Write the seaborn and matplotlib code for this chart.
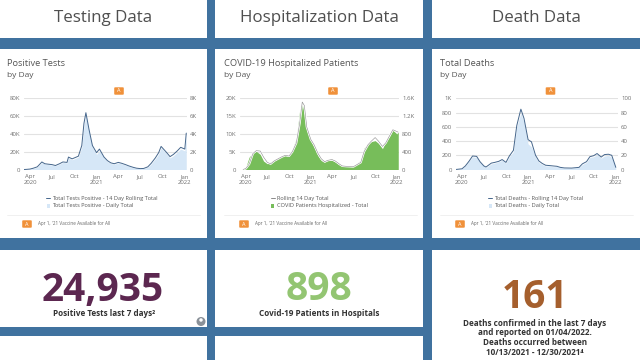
#!/usr/bin/env python3
"""Covid dashboard: three rolling/daily charts with headline numbers below."""

import matplotlib.pyplot as plt
import pandas as pd
import seaborn as sns
from matplotlib.patches import FancyBboxPatch, Rectangle, Ellipse

tests_dates = ["2020-03-05", "2020-03-15", "2020-04-01", "2020-04-15", "2020-05-01", "2020-05-20", "2020-06-01", "2020-06-15",
               "2020-07-01", "2020-07-15", "2020-08-01", "2020-08-15", "2020-09-01", "2020-09-07", "2020-09-22", "2020-10-18",
               "2020-11-01", "2020-11-10", "2020-11-18", "2020-12-01", "2020-12-15", "2021-01-01", "2021-01-13", "2021-02-01",
               "2021-02-15", "2021-03-01", "2021-03-15", "2021-04-01", "2021-04-15", "2021-05-01", "2021-05-15", "2021-06-01",
               "2021-06-15", "2021-07-01", "2021-07-15", "2021-08-01", "2021-08-15", "2021-09-01", "2021-09-15", "2021-09-25",
               "2021-10-15", "2021-11-01", "2021-11-15", "2021-12-01", "2021-12-15", "2022-01-01", "2022-01-07"]
tests_rolling = [0, 100, 500, 1500, 3000, 8500, 6500, 6000,
                 5500, 4500, 6500, 8500, 8000, 14000, 12000, 15000,
                 27000, 52000, 64000, 45000, 27000, 19000, 23000, 14000,
                 10000, 7500, 6500, 8000, 7000, 5500, 4000, 2500,
                 1500, 1000, 1200, 3000, 7000, 13000, 19000, 26000,
                 20000, 14500, 17000, 21000, 25000, 23000, 41000]
tests_daily = [0, 10, 40, 130, 260, 780, 620, 560,
               500, 420, 600, 800, 740, 1300, 1100, 1400,
               2500, 4800, 6200, 4300, 2500, 1700, 2100, 1300,
               900, 680, 600, 740, 640, 500, 360, 220,
               130, 90, 110, 270, 640, 1200, 1750, 2450,
               1850, 1300, 1550, 1950, 2300, 2100, 3900]

hosp_dates = ["2020-03-20", "2020-04-01", "2020-04-15", "2020-05-01", "2020-05-15", "2020-06-01", "2020-06-15", "2020-07-01",
              "2020-07-15", "2020-08-01", "2020-08-15", "2020-09-01", "2020-09-15", "2020-10-01", "2020-10-15", "2020-11-01",
              "2020-11-15", "2020-11-26", "2020-12-05", "2020-12-15", "2021-01-01", "2021-01-15", "2021-02-01", "2021-02-15",
              "2021-03-01", "2021-03-15", "2021-04-01", "2021-04-15", "2021-05-01", "2021-05-15", "2021-06-01", "2021-07-01",
              "2021-08-01", "2021-08-15", "2021-09-01", "2021-09-15", "2021-10-01", "2021-10-15", "2021-11-01", "2021-11-15",
              "2021-12-01", "2021-12-15", "2022-01-01", "2022-01-07"]
hosp_rolling = [0, 300, 1500, 4500, 5300, 5200, 3500, 2000,
                1600, 2500, 3000, 3600, 4000, 3800, 5000, 7500,
                13000, 19000, 18000, 12000, 8500, 7000, 4500, 3000,
                2200, 2600, 2800, 2400, 1600, 1000, 900, 800,
                2000, 5000, 7000, 8000, 9000, 8000, 6500, 7500,
                9500, 11200, 10700, 10500]
hosp_total = [0, 60, 280, 380, 410, 340, 190, 130,
              170, 220, 260, 310, 320, 320, 460, 700,
              1330, 1480, 1260, 880, 650, 510, 310, 200,
              170, 210, 210, 170, 110, 70, 70, 70,
              210, 480, 590, 630, 650, 590, 470, 630,
              750, 890, 800, 860]

deaths_dates = ["2020-03-05", "2020-04-01", "2020-04-15", "2020-05-01", "2020-05-15", "2020-06-01", "2020-06-15", "2020-07-01",
                "2020-07-10", "2020-08-01", "2020-08-15", "2020-09-01", "2020-09-15", "2020-10-01", "2020-10-15", "2020-11-01",
                "2020-11-15", "2020-12-02", "2020-12-15", "2021-01-01", "2021-01-15", "2021-02-01", "2021-02-15", "2021-03-01",
                "2021-03-15", "2021-04-01", "2021-04-15", "2021-05-01", "2021-05-15", "2021-06-01", "2021-07-01", "2021-08-01",
                "2021-08-15", "2021-09-01", "2021-09-15", "2021-10-01", "2021-10-15", "2021-11-01", "2021-11-15", "2021-12-01",
                "2021-12-15", "2022-01-01"]
deaths_rolling = [0, 10, 50, 120, 190, 185, 110, 50,
                  35, 90, 100, 115, 140, 100, 190, 270,
                  620, 850, 720, 420, 390, 200, 120, 85,
                  60, 55, 50, 45, 30, 22, 20, 30,
                  80, 110, 180, 195, 225, 175, 210, 215,
                  200, 30]
deaths_daily = [0, 1, 5, 12, 18, 17, 10, 5,
                3, 8, 9, 11, 13, 9, 18, 25,
                60, 80, 66, 36, 32, 17, 10, 7,
                5, 5, 4, 4, 3, 2, 2, 3,
                7, 10, 17, 18, 21, 16, 19, 20,
                17, 2]

month_ticks = ["2020-04-01", "2020-07-01", "2020-10-01", "2021-01-01", "2021-04-01", "2021-07-01", "2021-10-01", "2022-01-01"]
month_labels = ["Apr\n2020", "Jul", "Oct", "Jan\n2021", "Apr", "Jul", "Oct", "Jan\n2022"]

BLUE = "#40729f"
W, H = 640, 360

sns.set_style("white")
plt.rcParams["font.family"] = ["Open Sans", "DejaVu Sans"]

fig = plt.figure(figsize=(6.4, 3.6), dpi=100, facecolor=BLUE)


def panel(x0, y0, x1, y1):
    fig.add_artist(Rectangle((x0 / W, 1 - y1 / H), (x1 - x0) / W, (y1 - y0) / H,
                             transform=fig.transFigure, fc="white", ec="none", zorder=0))


def label(x, y, s, **kw):
    fig.text(x / W, 1 - y / H, s, **kw)


def badge(x, y):
    fig.add_artist(FancyBboxPatch(((x - 3.5) / W, 1 - (y + 3) / H), 7 / W, 6 / H,
                                  boxstyle="round,pad=0.002", transform=fig.transFigure,
                                  fc="#f0913a", ec="none", zorder=5))
    label(x, y, "A", color="white", fontsize=4, ha="center", va="center", zorder=6)


def chart(x0, x1, title, right_ticks, right_labels, left_ticks, left_labels, dates, roll, daily,
          names, fill, line, halo=False, panel_x=0):
    ax = fig.add_axes([x0 / W, 1 - 169.5 / H, (x1 - x0) / W, 71 / H], facecolor="none")
    d = pd.to_datetime(dates)
    ax2 = ax.twinx()
    ax2.fill_between(d, daily, color=fill, lw=0)
    if halo:
        sns.lineplot(x=d, y=roll, ax=ax, color="white", lw=1.5)
    sns.lineplot(x=d, y=roll, ax=ax, color=line, lw=0.4 if halo else 0.7)
    ax.set_ylim(left_ticks[0], left_ticks[-1])
    ax2.set_ylim(right_ticks[0], right_ticks[-1])
    ax.set_xlim(pd.Timestamp("2020-03-05"), pd.Timestamp("2022-01-08"))
    ax.set_xticks(pd.to_datetime(month_ticks))
    ax.set_xticklabels(month_labels)
    ax.set_yticks(left_ticks)
    ax.set_yticklabels(left_labels)
    ax2.set_yticks(right_ticks)
    ax2.set_yticklabels(right_labels)
    ax2.grid(False)
    # grid sits on the back axes so the area stays readable
    for t in right_ticks[1:]:
        ax2.axhline(t, color="#e2e2e2", lw=0.8, zorder=0)
    ax.grid(False)
    ax2.set_zorder(2)
    ax.set_zorder(3)
    ax.patch.set_visible(False)
    for a in (ax, ax2):
        a.tick_params(length=0, pad=2.5, labelsize=4.3, labelcolor="#707070")
        sns.despine(ax=a, left=True, right=True, bottom=True, top=True)
        a.set_xlabel("")
        a.set_ylabel("")
    ax.tick_params(axis="x", pad=3.5, labelsize=4.3)

    label(panel_x + 7, 64, title, fontsize=6.7, color="#555555", ha="left", va="center")
    label(panel_x + 7, 75.5, "by Day", fontsize=6, color="#555555", ha="left", va="center")
    badge((x0 + x1) / 2 + 14, 91)

    cx = (x0 + x1) / 2 + 2
    hw = max(len(names[0]), len(names[1])) * 1.27
    fig.add_artist(plt.Line2D([(cx - hw - 6) / W, (cx - hw - 2) / W], [1 - 198 / H] * 2, color=line, lw=0.7, zorder=4))
    label(cx - hw, 198, names[0], fontsize=4.05, color="#555555", ha="left", va="center")
    fig.add_artist(Rectangle(((cx - hw - 5.5) / W, 1 - 208 / H), 3 / W, 3.5 / H, fc=fill, ec="none",
                             transform=fig.transFigure, zorder=4))
    label(cx - hw, 206, names[1], fontsize=4.05, color="#555555", ha="left", va="center")

    fig.add_artist(plt.Line2D([(panel_x + 7) / W, (panel_x + 200) / W], [1 - 215 / H] * 2, color="#eeeeee", lw=0.6, zorder=4))
    badge(panel_x + 27, 224)
    label(panel_x + 38, 224, "Apr 1, '21 Vaccine Available for All", fontsize=3.3, color="#666666", ha="left", va="center")


def main():
    panel(0, 0, 207, 38)
    panel(215, 0, 423, 38)
    panel(432, 0, 640, 38)
    panel(0, 49, 207, 238)
    panel(215, 49, 423, 238)
    panel(432, 49, 640, 238)
    panel(0, 250, 207, 327)
    panel(215, 250, 423, 327)
    panel(432, 250, 640, 360)
    panel(0, 336, 207, 360)
    panel(215, 336, 423, 360)

    for x, s in [(103, "Testing Data"), (319, "Hospitalization Data"), (536, "Death Data")]:
        label(x, 18, s, fontsize=12.2, color="#4f4f4f", ha="center", va="center")

    chart(23.5, 186.5, "Positive Tests", [0, 2000, 4000, 6000, 8000], ["0", "2K", "4K", "6K", "8K"],
          [0, 20000, 40000, 60000, 80000], ["0", "20K", "40K", "60K", "80K"],
          tests_dates, tests_rolling, tests_daily,
          ["Total Tests Positive - 14 Day Rolling Total", "Total Tests Positive - Daily Total"],
          "#d6e7f7", "#45668c", panel_x=0)
    chart(239.5, 398.5, "COVID-19 Hospitalized Patients", [0, 400, 800, 1200, 1600], ["0", "400", "800", "1.2K", "1.6K"],
          [0, 5000, 10000, 15000, 20000], ["0", "5K", "10K", "15K", "20K"],
          hosp_dates, hosp_rolling, hosp_total,
          ["Rolling 14 Day Total", "COVID Patients Hospitalized - Total"],
          "#77bd5a", "#8a8a8a", halo=True, panel_x=217)
    chart(455.5, 617.5, "Total Deaths", [0, 20, 40, 60, 80, 100], ["0", "20", "40", "60", "80", "100"],
          [0, 200, 400, 600, 800, 1000], ["0", "200", "400", "600", "800", "1K"],
          deaths_dates, deaths_rolling, deaths_daily,
          ["Total Deaths - Rolling 14 Day Total", "Total Deaths - Daily Total"],
          "#d6e7f7", "#45668c", panel_x=433)

    label(103, 290, "24,935", fontsize=28, fontweight="bold", color="#5c2750", ha="center", va="center")
    label(104, 314, "Positive Tests last 7 days²", fontsize=5.9, fontweight="bold", color="#333333", ha="center", va="center")
    label(319, 290, "898", fontsize=28, fontweight="bold", color="#93c572", ha="center", va="center")
    label(319, 314, "Covid-19 Patients in Hospitals", fontsize=5.9, fontweight="bold", color="#333333", ha="center", va="center")
    label(535, 298, "161", fontsize=28, fontweight="bold", color="#a55f2d", ha="center", va="center")
    deaths_text = ["Deaths confirmed in the last 7 days", "and reported on 01/04/2022.",
                   "Deaths occurred between", "10/13/2021 - 12/30/2021⁴"]
    for i, s in enumerate(deaths_text):
        label(535, 323 + i * 9.7, s, fontsize=5.85, fontweight="bold", color="#333333", ha="center", va="center")

    fig.add_artist(Ellipse((201 / W, 1 - 321.5 / H), 9 / W, 9 / H, transform=fig.transFigure, fc="#8a9199", ec="none", zorder=4))
    fig.add_artist(Ellipse((201 / W, 1 - 320 / H), 3.5 / W, 3.5 / H, transform=fig.transFigure, fc="white", ec="none", zorder=5))
    fig.savefig("out.png", dpi=100, facecolor=BLUE)
    plt.close()


if __name__ == "__main__":
    main()
